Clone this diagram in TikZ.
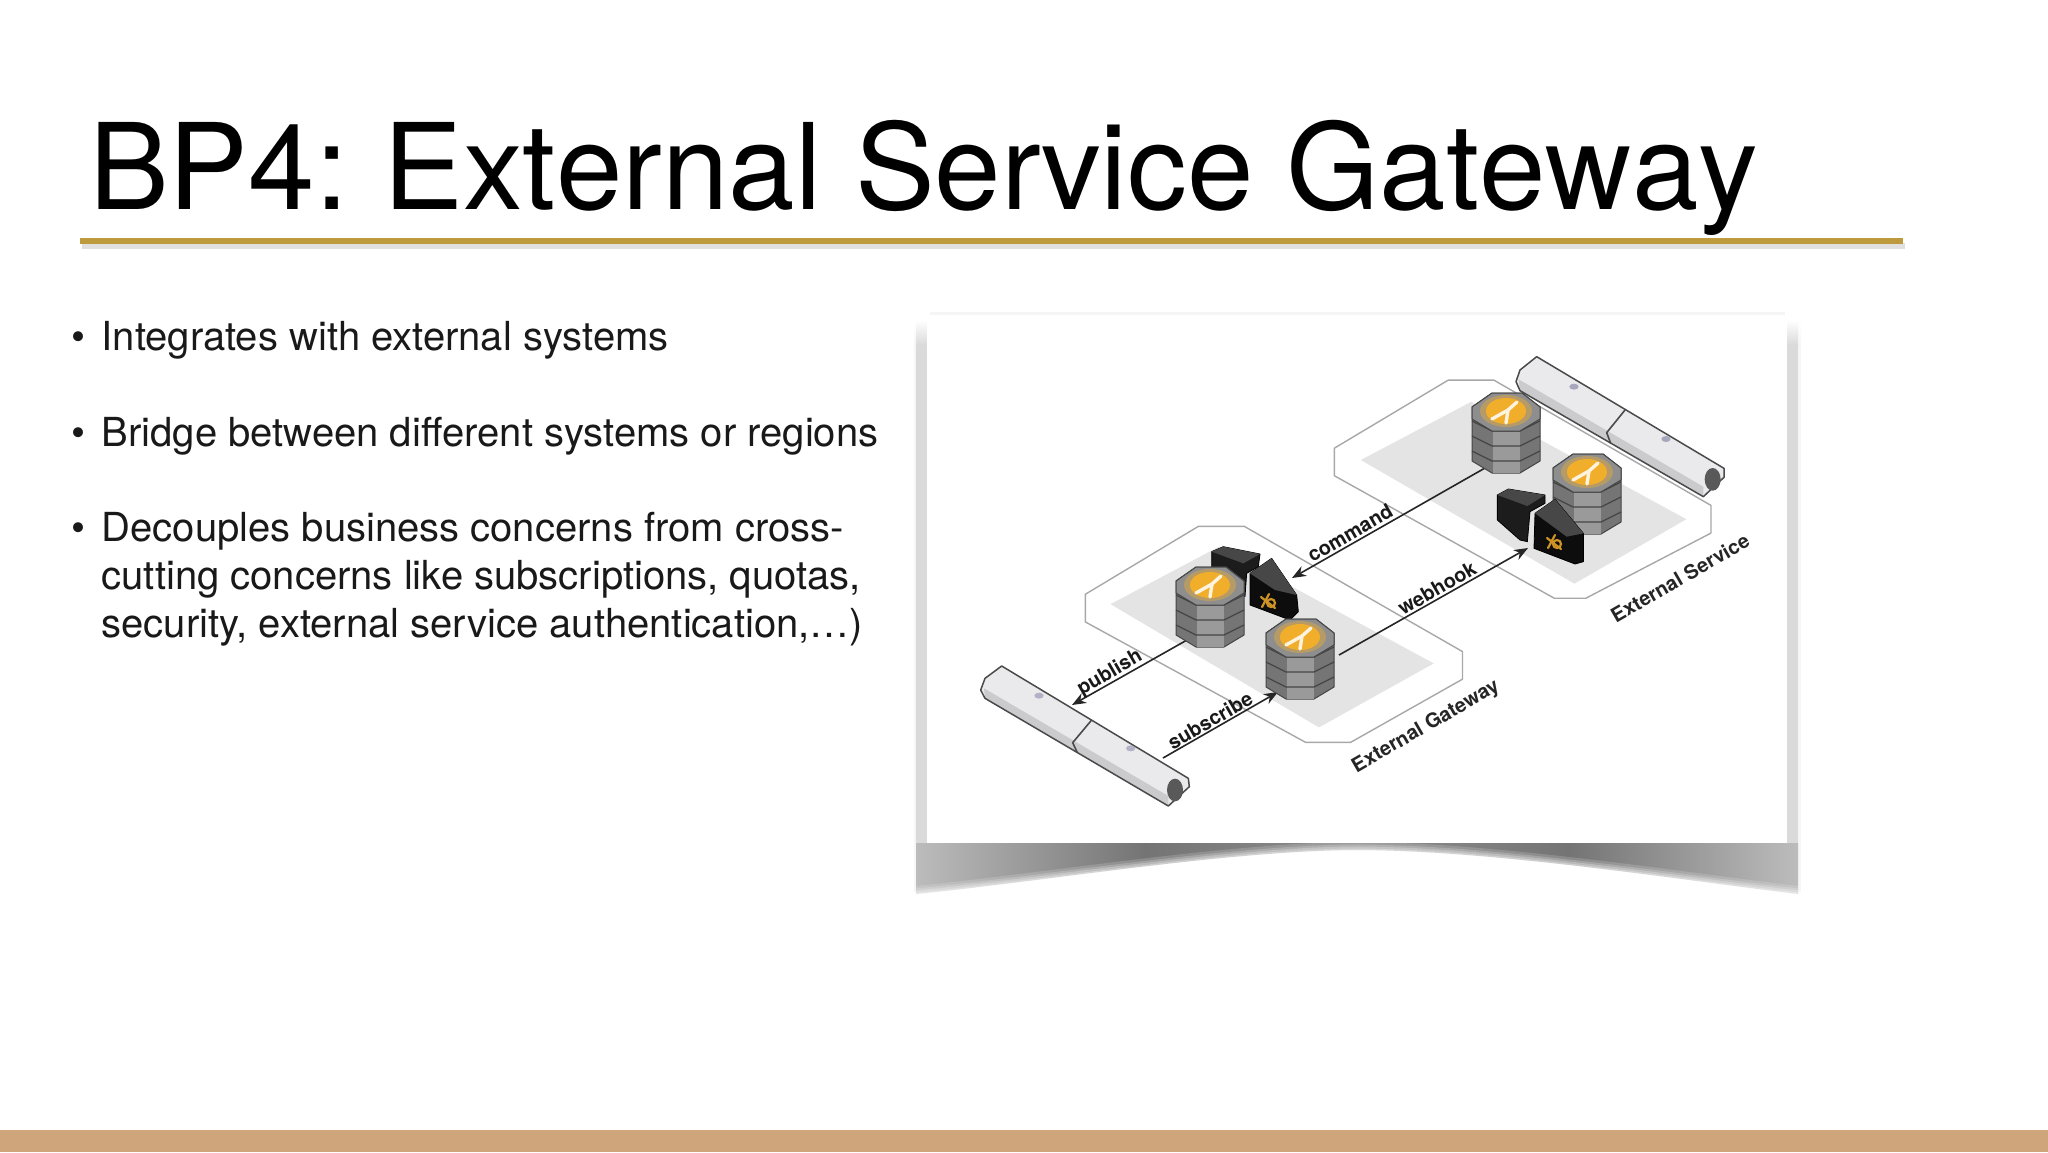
\documentclass[tikz,border=0pt]{standalone}
\usepackage{fontspec}
\setmainfont{TeX Gyre Heros}
\newfontfamily\titlefont[Kerning=Off]{TeX Gyre Heros}
\usetikzlibrary{arrows.meta,shadings}
\definecolor{goldrule}{HTML}{BE9A3F}
\definecolor{band}{HTML}{CFA67B}
\definecolor{plate}{HTML}{E4E4E4}
\definecolor{hexline}{HTML}{A8A8A8}
\definecolor{dbtop}{HTML}{8E8E8E}
\definecolor{dbside}{HTML}{757575}
\definecolor{dbfront}{HTML}{9A9A9A}
\definecolor{dbline}{HTML}{454545}
\definecolor{amber}{HTML}{F1AE2B}
\definecolor{pipeA}{HTML}{EAEAEC}
\definecolor{pipeB}{HTML}{CBCBCE}
\definecolor{pipeC}{HTML}{4A4A4A}
\definecolor{wedge}{HTML}{1C1C1C}
\definecolor{wedgeB}{HTML}{0D0D0D}
\definecolor{shadeEnd}{HTML}{BCBCBC}
\definecolor{shadeDark}{HTML}{747474}
\definecolor{shadeMid}{HTML}{8E8E8E}
\definecolor{sideShade}{HTML}{DADADA}
\pgfdeclarehorizontalshading{shadowband}{100bp}{%
  color(0bp)=(shadeEnd);color(25bp)=(shadeEnd);color(38bp)=(shadeDark);
  color(50bp)=(shadeMid);color(62bp)=(shadeDark);color(75bp)=(shadeEnd);color(100bp)=(shadeEnd)}
\tikzset{
  titletext/.style={anchor=base west,inner sep=0pt,font=\titlefont\fontsize{119.5}{120}\selectfont,text=black},
  bodytext/.style={anchor=base west,inner sep=0pt,font=\fontsize{40}{48}\selectfont,text=black!90},
  hexagon/.style={draw=hexline,line width=1.4pt,fill=white,line join=round},
  plateface/.style={fill=plate},
  flowline/.style={draw=black!85,line width=1.6pt,-{Stealth[length=14pt,width=11pt]}},
  flowlabel/.style={inner sep=0pt,rotate=30,text=black!90,font=\fontsize{20}{20}\selectfont\bfseries},
  zonelabel/.style={inner sep=0pt,rotate=30,text=black!85,font=\fontsize{20}{20}\selectfont\bfseries},
  zoomA/.style={shift={(920,300)},xscale=.574,yscale=.395},
  zoomB/.style={shift={(1420,340)},scale=1/3},
  zoomC/.style={shift={(960,530)},scale=1/3},
  wedgeface/.style={fill=wedge,draw=black,line width=.8pt,line join=round},
  gearmark/.style={draw=amber!85!black,line width=2.2pt,line cap=round},
}
\newcommand{\dbstack}[3]{%
  \begin{scope}[shift={(#2,#3)}]
    \coordinate (#1) at (0,0);
    \path[fill=dbside,draw=dbline,line width=1pt,line join=round]
      (-34,-4)--(-14,-18)--(16,-18)--(34,-4)--(34,50)--(14,62)--(-14,62)--(-34,50)--cycle;
    \fill[dbfront] (-13,20)--(14,20)--(14,62)--(-13,62)--cycle;
    \foreach \d in {0,15,30}{
      \draw[dbline,line width=1.3pt,line join=round] (-34,10+\d)--(-14,20+\d)--(14,20+\d)--(34,10+\d);
    }
    \path[fill=dbtop,draw=dbline,line width=1pt,line join=round]
      (-34,-4)--(-14,-18)--(16,-18)--(34,-4)--(34,8)--(14,20)--(-14,20)--(-34,8)--cycle;
    \fill[amber!40!dbtop] (0,0) ellipse [x radius=26,y radius=16];
    \fill[amber] (0,0) ellipse [x radius=20,y radius=13];
    \draw[white!85!amber,line width=3.4pt,line cap=round] (-14,8)--(2,-1)--(11,-9);
    \draw[white!85!amber,line width=3.4pt,line cap=round] (2,-1)--(0,12);
  \end{scope}}
\newcommand{\gearicon}[2]{%
  \begin{scope}[shift={(#1,#2)}]
    \draw[gearmark] (-7,-5)--(7,6);
    \draw[gearmark] (-6,5)--(1,-8);
    \draw[gearmark] (3,1) circle (4);
  \end{scope}}
\newcommand{\pipeshape}[2]{%
  \path[fill=pipeA] #1;
  \fill[pipeB] #2;
  \draw[pipeC,line width=1.5pt,line join=round] #1;}
\begin{document}
\begin{tikzpicture}[x=1pt,y=-1pt]
\useasboundingbox (0,0) rectangle (2048,1152);
\fill[white] (0,0) rectangle (2048,1152);
\fill[band] (0,1130) rectangle (2048,1152);
% title and rule
\node[titletext] (title) at (89,209) {BP4:\kern-9pt{} External Service Gateway};
\fill[black!12] (82,243) rectangle (1905,249);
\fill[goldrule] (80,238) rectangle (1903,244);
% bullets
\node[bodytext] (b1dot) at (71,350) {•};
\node[bodytext] (b1) at (101.5,350) {Integrates with external systems};
\node[bodytext] (b2dot) at (71,446) {•};
\node[bodytext] (b2) at (101.5,446) {Bridge between different systems or regions};
\node[bodytext] (b3dot) at (71,541) {•};
\node[bodytext] (b3a) at (101.5,541) {Decouples business concerns from cross-};
\node[bodytext] (b3b) at (101.5,589) {cutting concerns like subscriptions, quotas,};
\node[bodytext] (b3c) at (101.5,637) {security, external service authentication,…)};
% picture frame shadow
\fill[top color=white,bottom color=sideShade!25] (914,322) rectangle (916,345);
\fill[sideShade!25] (914,345) rectangle (916,892);
\fill[top color=white,bottom color=sideShade] (916,320) rectangle (927,345);
\fill[sideShade] (916,345) rectangle (927,860);
\fill[top color=white,bottom color=sideShade!25] (1798,322) rectangle (1801,345);
\fill[sideShade!25] (1798,345) rectangle (1801,892);
\fill[top color=white,bottom color=sideShade] (1787,320) rectangle (1798,345);
\fill[sideShade] (1787,345) rectangle (1798,860);
\fill[black!4] (930,312) rectangle (1785,315);
\fill[white] (927,315) rectangle (1787,843);
\shade[shading=shadowband]
  (916,843) -- (1798,843) -- (1798,894)
  .. controls (1680,880) and (1500,851) .. (1360,850)
  .. controls (1230,850) and (1040,882) .. (916,894) -- cycle;
\foreach \w/\o in {16/.16,11/.2,7/.25,3/.3}{
  \draw[white,line width=\w pt,opacity=\o]
    (1798,894) .. controls (1680,880) and (1500,851) .. (1360,850)
    .. controls (1230,850) and (1040,882) .. (916,894);
}
\fill[white] (927,815) rectangle (1787,843);
% zones
\begin{scope}[zoomA]
  \path[hexagon] (722,375)--(920,203)--(1000,203)--(1378,520)--(1378,590)--(1160,755)--(1105,755)--(722,445)--cycle;
  \path[plateface] (768,405)--(960,258)--(1335,555)--(1140,718)--cycle;
  \path[hexagon] (288,745)--(485,573)--(565,573)--(945,890)--(945,960)--(750,1120)--(672,1120)--(288,815)--cycle;
  \path[plateface] (332,770)--(520,625)--(895,920)--(695,1082)--cycle;
\end{scope}
% connector end points
\coordinate (cmdS) at (1485,468);
\coordinate (cmdT) at (1292,578);
\coordinate (hookS) at (1339,655);
\coordinate (hookT) at (1528,548);
\coordinate (pubS) at (1187,640);
\coordinate (pubT) at (1072,705);
\coordinate (subS) at (1163,758);
\coordinate (subT) at (1278,692);
% pipes
\begin{scope}[zoomB]
  \pipeshape{(288,125)--(300,90)--(350,50)--(912,385)--(912,412)--(850,470)--(300,152)--cycle}{(296,118)--(850,440)--(850,470)--(300,152)--cycle}
  \draw[pipeC,line width=1.6pt,line join=round] (615,210)--(560,278)--(572,310);
  \fill[black!65] (878,418) ellipse [x radius=24,y radius=34];
  \fill[blue!25!black!35] (462,140) ellipse [x radius=14,y radius=9];
  \fill[blue!25!black!35] (738,297) ellipse [x radius=14,y radius=9];
\end{scope}
\begin{scope}[zoomC]
  \pipeshape{(62,480)--(75,445)--(125,408)--(685,745)--(688,770)--(625,828)--(75,505)--cycle}{(72,475)--(625,798)--(625,828)--(75,505)--cycle}
  \draw[pipeC,line width=1.6pt,line join=round] (395,570)--(338,638)--(352,668);
  \fill[black!65] (645,780) ellipse [x radius=24,y radius=34];
  \fill[blue!25!black!30] (237,497) ellipse [x radius=14,y radius=9];
  \fill[blue!25!black!30] (512,655) ellipse [x radius=14,y radius=9];
\end{scope}
% connectors
\draw[flowline] (cmdS) -- (cmdT);
\draw[flowline] (hookS) -- (hookT);
\draw[flowline] (pubS) -- (pubT);
\draw[flowline] (subS) -- (subT);
% service components
\dbstack{dbOne}{1506}{411}
\dbstack{dbTwo}{1587}{472}
\begin{scope}[zoomB]
  \path[wedgeface] (232,465)--(265,447)--(375,465)--(375,490)--(330,515)--(322,605)--(300,600)--(232,540)--cycle;
  \fill[black!72] (232,465)--(265,447)--(375,465)--(322,498)--cycle;
  \path[wedgeface,fill=wedgeB] (345,520)--(405,478)--(490,580)--(490,665)--(465,672)--(342,625)--cycle;
  \fill[black!72] (345,520)--(405,478)--(490,580)--(440,590)--cycle;
\end{scope}
\gearicon{1554}{543}
% gateway components
\begin{scope}[zoomC]
  \path[wedgeface] (755,65)--(790,50)--(900,72)--(895,110)--(860,130)--(855,200)--(755,130)--cycle;
  \fill[black!72] (755,65)--(790,50)--(900,72)--(850,100)--cycle;
\end{scope}
\dbstack{dbA}{1210}{585}
\begin{scope}[zoomC]
  \path[wedgeface,fill=wedgeB] (870,130)--(935,85)--(1010,195)--(1015,245)--(990,270)--(870,225)--cycle;
  \fill[black!72] (870,130)--(935,85)--(1010,195)--(945,180)--cycle;
\end{scope}
\gearicon{1268}{602}
\dbstack{dbB}{1300}{637}
% labels
\node[flowlabel] (lcommand) at (1350,533) {command};
\node[flowlabel] (lwebhook) at (1437,588) {webhook};
\node[flowlabel] (lpublish) at (1110,673) {publish};
\node[flowlabel] (lsubscribe) at (1210,720) {subscribe};
\node[zonelabel] (lgateway) at (1426,727) {External Gateway};
\node[zonelabel] (lservice) at (1680,578) {External Service};
\end{tikzpicture}
\end{document}
